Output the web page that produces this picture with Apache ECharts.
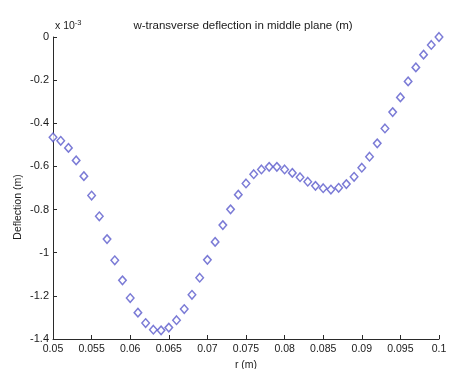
<!DOCTYPE html>
<html>
<head>
<meta charset="utf-8">
<script src="https://cdn.jsdelivr.net/npm/echarts@6/dist/echarts.min.js"></script>
<style>
html,body{margin:0;padding:0;background:#fff;}
#chart{width:474px;height:369px;}
</style>
</head>
<body>
<div id="chart"></div>
<script>
// radius r (m)
var rValues = [0.050,0.051,0.052,0.053,0.054,0.055,0.056,0.057,0.058,0.059,
               0.060,0.061,0.062,0.063,0.064,0.065,0.066,0.067,0.068,0.069,
               0.070,0.071,0.072,0.073,0.074,0.075,0.076,0.077,0.078,0.079,
               0.080,0.081,0.082,0.083,0.084,0.085,0.086,0.087,0.088,0.089,
               0.090,0.091,0.092,0.093,0.094,0.095,0.096,0.097,0.098,0.099,0.100];
// deflection in units of 1e-3 m
var deflectionE3 = [-0.465,-0.481,-0.514,-0.572,-0.645,-0.735,-0.831,-0.937,-1.035,-1.128,
                    -1.210,-1.278,-1.326,-1.357,-1.360,-1.347,-1.313,-1.261,-1.195,-1.116,
                    -1.033,-0.950,-0.872,-0.799,-0.731,-0.679,-0.636,-0.614,-0.602,-0.602,
                    -0.614,-0.630,-0.650,-0.671,-0.690,-0.701,-0.707,-0.699,-0.682,-0.648,
                    -0.606,-0.555,-0.493,-0.424,-0.348,-0.280,-0.206,-0.141,-0.082,-0.037,0.000];
var xTickLabels = ['0.05','0.055','0.06','0.065','0.07','0.075','0.08','0.085','0.09','0.095','0.1'];
var yTickLabels = ['0','-0.2','-0.4','-0.6','-0.8','-1','-1.2','-1.4'];

var FONT = 'Liberation Sans, Arial, sans-serif';
var chart = echarts.init(document.getElementById('chart'));
var pts = rValues.map(function(r, i){ return [r, deflectionE3[i]]; });

chart.setOption({
  backgroundColor: '#ffffff',
  animation: false,
  title: {
    text: 'w-transverse deflection in middle plane (m)',
    left: 243, top: 20, padding: 0, textAlign: 'center',
    textStyle: { fontFamily: FONT, fontSize: 11.5, fontWeight: 'normal', color: '#1a1a1a' }
  },
  grid: { left: 53, right: 35, top: 37, bottom: 30, containLabel: false, outerBoundsMode: 'none', show: false },
  xAxis: {
    type: 'value', min: 0.05, max: 0.1, interval: 0.005,
    name: 'r (m)', nameLocation: 'middle', nameGap: 19,
    nameTextStyle: { fontFamily: FONT, fontSize: 10.5, color: '#1a1a1a' },
    axisLine: { show: true, onZero: false, lineStyle: { color: '#2a2a2a', width: 1 } },
    axisTick: { show: true, inside: true, length: 4, lineStyle: { color: '#2a2a2a' } },
    axisLabel: {
      fontFamily: FONT, fontSize: 10.5, color: '#1a1a1a', margin: 5,
      formatter: function(v){ var s = String(+v.toFixed(4)); var i = xTickLabels.indexOf(s); return i >= 0 ? xTickLabels[i] : s; }
    },
    splitLine: { show: false }
  },
  yAxis: {
    type: 'value', min: -1.4, max: 0, interval: 0.2,
    axisLine: { show: true, onZero: false, lineStyle: { color: '#2a2a2a', width: 1 } },
    axisTick: { show: true, inside: true, length: 4, lineStyle: { color: '#2a2a2a' } },
    axisLabel: {
      fontFamily: FONT, fontSize: 11, color: '#1a1a1a', margin: 4,
      formatter: function(v){ var s = String(+v.toFixed(2)); var i = yTickLabels.indexOf(s); return i >= 0 ? yTickLabels[i] : s; }
    },
    splitLine: { show: false }
  },
  graphic: [
    {
      type: 'text', left: 55, top: 19,
      style: {
        text: 'x 10{sup|-3}',
        rich: { sup: { fontSize: 7.5, verticalAlign: 'top', padding: [0,0,7,0], fontFamily: FONT, fill: '#1a1a1a' } },
        fontFamily: FONT, fontSize: 10.5, fill: '#1a1a1a'
      }
    },
    {
      type: 'text', x: 18, y: 207, rotation: Math.PI / 2,
      style: {
        text: 'Deflection (m)', fontFamily: FONT, fontSize: 10.5, fill: '#1a1a1a',
        align: 'center', verticalAlign: 'middle'
      }
    }
  ],
  series: [{
    type: 'scatter',
    data: pts,
    symbol: 'diamond',
    symbolSize: [7.5, 8.5],
    itemStyle: { color: '#ffffff', borderColor: '#5a5acc', borderWidth: 1.5 }
  }]
});
</script>
</body>
</html>
